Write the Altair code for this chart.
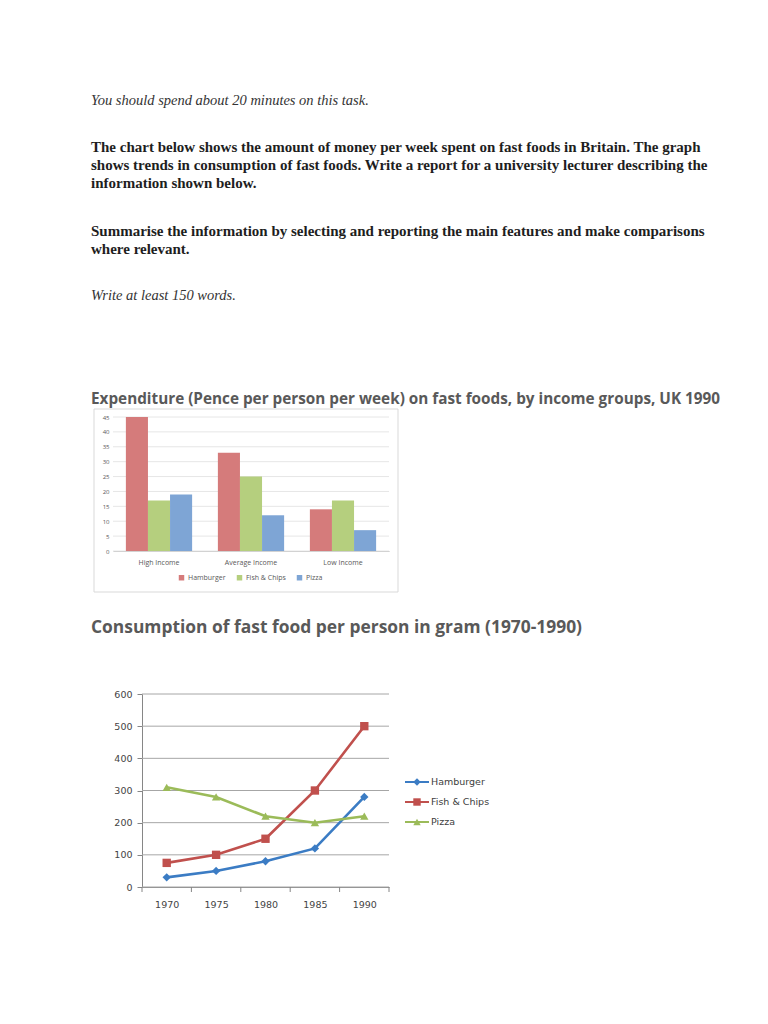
import altair as alt
import pandas as pd

# ---------------- data ----------------
intro_line = "You should spend about 20 minutes on this task."
task_lines = [
    "The chart below shows the amount of money per week spent on fast foods in Britain. The graph",
    "shows trends in consumption of fast foods. Write a report for a university lecturer describing the",
    "information shown below.",
]
summary_lines = [
    "Summarise the information by selecting and reporting the main features and make comparisons",
    "where relevant.",
]
words_line = "Write at least 150 words."
bar_title = "Expenditure (Pence per person per week) on fast foods, by income groups, UK 1990"
line_title = "Consumption of fast food per person in gram (1970-1990)"

income_groups = ["High Income", "Average Income", "Low Income"]
foods = ["Hamburger", "Fish & Chips", "Pizza"]
hamburger_pence = [45, 33, 14]
fish_pence = [17, 25, 17]
pizza_pence = [19, 12, 7]
bar_ticks = [0, 5, 10, 15, 20, 25, 30, 35, 40, 45]

years = [1970, 1975, 1980, 1985, 1990]
hamburger_g = [30, 50, 80, 120, 280]
fish_g = [75, 100, 150, 300, 500]
pizza_g = [310, 280, 220, 200, 220]
line_ticks = [0, 100, 200, 300, 400, 500, 600]

bar_colors = ["#d57b7b", "#b5cf7e", "#7ea5d5"]
line_colors = ["#3b7cc4", "#c0504d", "#9bbb59"]
marker_shapes = ["diamond", "square", "triangle-up"]

# ---------------- tables ----------------
bar_rows = []
for g, a, b, c in zip(income_groups, hamburger_pence, fish_pence, pizza_pence):
    bar_rows += [(g, foods[0], a), (g, foods[1], b), (g, foods[2], c)]
bar_df = pd.DataFrame(bar_rows, columns=["group", "food", "value"])

line_rows = []
for s, vals in zip(foods, [hamburger_g, fish_g, pizza_g]):
    for yr, v in zip(years, vals):
        line_rows.append((s, yr, v))
line_df = pd.DataFrame(line_rows, columns=["series", "year", "value"])
boundaries = pd.DataFrame({"b": [years[0] - 2.5 + 5 * i for i in range(len(years) + 1)]})
bar_grid = pd.DataFrame({"v": bar_ticks})
line_grid = pd.DataFrame({"v": line_ticks})
legend_df = pd.DataFrame({"series": foods})

one = pd.DataFrame({"a": [0]})

# ---------------- text block ----------------
def text_layer(txt, x, y, font, size, weight="normal", style="normal", color="#222222"):
    return alt.Chart(pd.DataFrame({"t": [txt]})).mark_text(
        align="left", baseline="middle", font=font, fontSize=size,
        fontWeight=weight, fontStyle=style, color=color
    ).encode(text="t:N", x=alt.value(x), y=alt.value(y))

serif = "Liberation Serif"
layers = [text_layer(intro_line, 0, 92, serif, 14.5, style="italic", color="#333333")]
for i, t in enumerate(task_lines):
    layers.append(text_layer(t, 0, 138 + 18 * i, serif, 15, weight="bold", color="#1e1e1e"))
for i, t in enumerate(summary_lines):
    layers.append(text_layer(t, 0, 222 + 18 * i, serif, 15, weight="bold", color="#1e1e1e"))
layers.append(text_layer(words_line, 0, 287, serif, 14.5, style="italic", color="#333333"))
layers.append(text_layer(bar_title, 0, 390, "Open Sans", 15.3, weight="bold", color="#595959"))
layers.append(text_layer(line_title, 0, 619, "Open Sans", 17.4, weight="bold", color="#595959"))
text_chart = alt.layer(*layers).properties(width=630, height=265)

# ---------------- bar chart ----------------
BX = 22   # plot area starts this far right of the column origin
BW = 298
bar_yscale = alt.Scale(domain=[0, 45], nice=False)
bar_yaxis = alt.Axis(title=None, values=bar_ticks, domain=False, ticks=False, grid=False,
                     offset=-BX, labelFont="Open Sans", labelFontSize=6,
                     labelColor="#595959", labelPadding=4)
frame = alt.Chart(one).mark_rect(fillOpacity=0, stroke="#d9d9d9", strokeWidth=1).encode(
    x=alt.value(3), x2=alt.value(307), y=alt.value(-8), y2=alt.value(175)
)
bgrid = alt.Chart(bar_grid).mark_rule(color="#e6e6e6", strokeWidth=1).encode(
    y=alt.Y("v:Q", scale=bar_yscale, axis=bar_yaxis),
    x=alt.value(BX), x2=alt.value(BW))
bars = alt.Chart(bar_df).mark_bar().encode(
    x=alt.X("group:N", sort=income_groups,
            scale=alt.Scale(range=[BX, BW], paddingInner=0.28, paddingOuter=0.14),
            axis=alt.Axis(title=None, labelAngle=0, ticks=False, domainColor="#bfbfbf",
                          labelFont="Open Sans", labelFontSize=7, labelColor="#595959",
                          labelPadding=7)),
    xOffset=alt.XOffset("food:N", sort=foods, scale=alt.Scale(paddingInner=0, paddingOuter=0)),
    y=alt.Y("value:Q", scale=bar_yscale, axis=bar_yaxis),
    color=alt.Color("food:N", sort=foods, scale=alt.Scale(domain=foods, range=bar_colors),
                    legend=alt.Legend(orient="none", legendX=87, legendY=157, direction="horizontal",
                                      title=None, symbolType="square", symbolSize=30,
                                      symbolStrokeWidth=0, labelFont="Open Sans", labelFontSize=7,
                                      labelColor="#595959", labelOffset=3, columnPadding=10)),
)
bar_chart = alt.layer(frame, bgrid, bars).properties(width=BW, height=134)

# ---------------- line chart ----------------
LX = 51
LW = 298
xscale = alt.Scale(domain=[1967.5, 1992.5], range=[LX, LW], nice=False, zero=False)
yscale = alt.Scale(domain=[0, 600], nice=False)
xaxis = alt.Axis(title=None, values=years, format="d", ticks=False, grid=False,
                 domainColor="#868686", labelFont="DejaVu Sans", labelFontSize=9.5,
                 labelColor="#444444", labelPadding=12)
yaxis = alt.Axis(title=None, values=line_ticks, tickSize=5, tickColor="#868686", grid=False,
                 offset=-LX, domainColor="#868686", labelFont="DejaVu Sans",
                 labelFontSize=9.5, labelColor="#444444", labelPadding=5)
color_scale = alt.Scale(domain=foods, range=line_colors)
shape_scale = alt.Scale(domain=foods, range=marker_shapes)

lgrid = alt.Chart(line_grid).mark_rule(color="#a6a6a6", strokeWidth=1).encode(
    y=alt.Y("v:Q", scale=yscale, axis=yaxis), x=alt.value(LX), x2=alt.value(LW))
bticks = alt.Chart(boundaries).mark_rule(color="#868686", strokeWidth=1).encode(
    x=alt.X("b:Q", scale=xscale, axis=xaxis), y=alt.value(193), y2=alt.value(198))
base = alt.Chart(line_df)
lines = base.mark_line(strokeWidth=2.6).encode(
    x=alt.X("year:Q", scale=xscale, axis=xaxis),
    y=alt.Y("value:Q", scale=yscale, axis=yaxis),
    color=alt.Color("series:N", scale=color_scale, legend=None))
points = base.mark_point(filled=True, size=70, opacity=1).encode(
    x=alt.X("year:Q", scale=xscale, axis=xaxis),
    y=alt.Y("value:Q", scale=yscale, axis=yaxis),
    color=alt.Color("series:N", scale=color_scale, legend=None),
    shape=alt.Shape("series:N", scale=shape_scale, legend=None))
plot = alt.layer(lgrid, bticks, lines, points)

# legend drawn as marks, one row per series, on its own point scale
leg_y = alt.Y("series:N", sort=foods,
              scale=alt.Scale(type="point", domain=foods, range=[88, 128], padding=0),
              axis=None)
leg_base = alt.Chart(legend_df)
leg_line = leg_base.mark_rule(strokeWidth=2).encode(
    y=leg_y, x=alt.value(314), x2=alt.value(338),
    color=alt.Color("series:N", scale=color_scale, legend=None))
leg_mark = leg_base.mark_point(filled=True, size=55, opacity=1).encode(
    y=leg_y, x=alt.value(326),
    color=alt.Color("series:N", scale=color_scale, legend=None),
    shape=alt.Shape("series:N", scale=shape_scale, legend=None))
leg_text = leg_base.mark_text(align="left", baseline="middle", font="DejaVu Sans", fontSize=9.5,
                              color="#404040").encode(
    y=leg_y, x=alt.value(340), text="series:N")
legend_block = alt.layer(leg_line, leg_mark, leg_text)

line_chart = alt.layer(plot, legend_block).resolve_scale(y="independent").properties(
    width=LW, height=193)

# ---------------- page ----------------
chart = alt.vconcat(text_chart, bar_chart, line_chart, spacing=143, bounds="flush").resolve_scale(
    color="independent", shape="independent"
).resolve_legend(color="independent").properties(
    padding={"left": 82, "top": 0, "right": 8, "bottom": 8}, background="white"
).configure_view(stroke="transparent")

chart.save("out.html", embed_options={"renderer": "svg", "actions": False})
